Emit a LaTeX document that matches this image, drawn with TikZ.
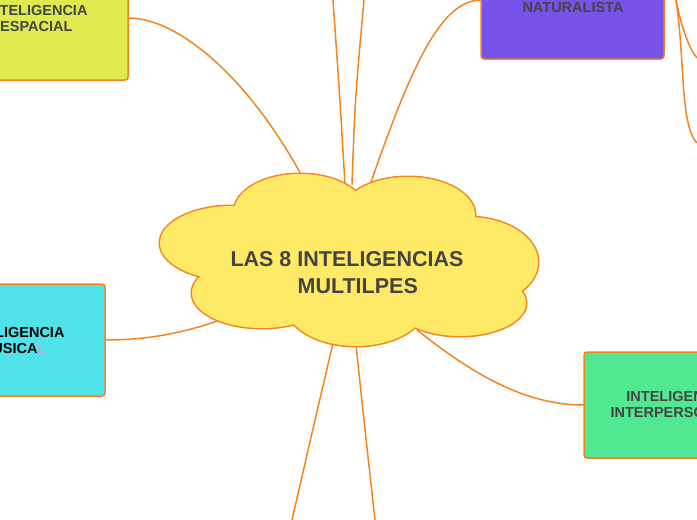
\documentclass[tikz,border=0pt]{standalone}
\usepackage{fontspec}
\setmainfont{Liberation Sans}
\begin{document}
\begin{tikzpicture}[x=1pt,y=-1pt,
  link/.style={draw=orange1,line width=1.5pt},
  box/.style={draw=orange1,line width=1.5pt,rounded corners=3pt},
  lbl/.style={font=\bfseries\fontsize{14.5}{16}\selectfont,text=txt,align=center}]
\definecolor{orange1}{HTML}{F5841F}
\definecolor{txt}{HTML}{444444}
\definecolor{cloudc}{HTML}{FEEA66}
\useasboundingbox (0,0) rectangle (697,520);
\clip (0,0) rectangle (697,520);
% connectors
\coordinate (c1) at (303,178); \coordinate (e1) at (128,18);
\draw[link] (c1) .. controls (250,80) and (180,18) .. (e1);
\coordinate (c2) at (345,185); \coordinate (e2) at (333,0);
\draw[link] (c2) .. controls (340,100) .. (e2);
\coordinate (c3) at (352,185); \coordinate (e3) at (364,0);
\draw[link] (c3) .. controls (355,100) .. (e3);
\coordinate (c4) at (370,185); \coordinate (e4) at (481,0);
\draw[link] (c4) .. controls (410,70) and (440,0) .. (e4);
\coordinate (r0) at (676,0); \coordinate (r1) at (697,58); \coordinate (r2) at (697,143);
\draw[link] (r0) .. controls (682,30) and (690,50) .. (r1);
\draw[link] (r0) .. controls (685,60) and (680,125) .. (r2);
\coordinate (c5) at (220,320); \coordinate (e5) at (105,340);
\draw[link] (c5) .. controls (170,338) and (130,340) .. (e5);
\coordinate (c6) at (417,330); \coordinate (e6) at (584,405);
\draw[link] (c6) .. controls (480,380) and (530,405) .. (e6);
\coordinate (c7) at (333,343); \coordinate (e7) at (292,520);
\draw[link] (c7) .. controls (315,420) .. (e7);
\coordinate (c8) at (356,345); \coordinate (e8) at (375,520);
\draw[link] (c8) .. controls (365,430) .. (e8);
% cloud
\def\bumps{
 (300,212) ellipse [x radius=66,y radius=38]
 (408,215) ellipse [x radius=67,y radius=38]
 (232,243) ellipse [x radius=72,y radius=37]
 (468,262) ellipse [x radius=70,y radius=45]
 (262,293) ellipse [x radius=70,y radius=35]
 (356,305) ellipse [x radius=70,y radius=41]
 (460,303) ellipse [x radius=66,y radius=33]
 (350,262) ellipse [x radius=150,y radius=60]}
\draw[orange1,line width=3pt] \bumps;
\fill[cloudc] \bumps;
\node[lbl,font=\bfseries\fontsize{21.5}{27}\selectfont] (cloud) at (347,273) {LAS 8 INTELIGENCIAS\\\quad MULTILPES};
% boxes
\draw[box,fill={rgb,255:red,223;green,234;blue,80}] (-10,-10) rectangle (128,80);
\node[lbl,anchor=north east] (esp) at (91,2) {INTELIGENCIA\\ESPACIAL\hspace{14pt}};
\draw[box,fill={rgb,255:red,118;green,82;blue,232}] (481,-20) rectangle (664,59);
\node[lbl] (nat) at (573,8) {NATURALISTA};
\draw[box,fill={rgb,255:red,80;green,227;blue,234}] (-20,284) rectangle (105,396);
\node[lbl,text=black,anchor=east] (mus) at (68,341) {INTELIGENCIA\\MUSICA\textcolor[HTML]{B9A3F0}{L}\hspace{18pt}};
\draw[box,fill={rgb,255:red,80;green,232;blue,144}] (584,352) rectangle (720,458);
\node[lbl,anchor=west] (inter) at (607,405) {\hspace{10pt}INTELIGENCIA\\INTERPERSONAL};
\end{tikzpicture}
\end{document}
